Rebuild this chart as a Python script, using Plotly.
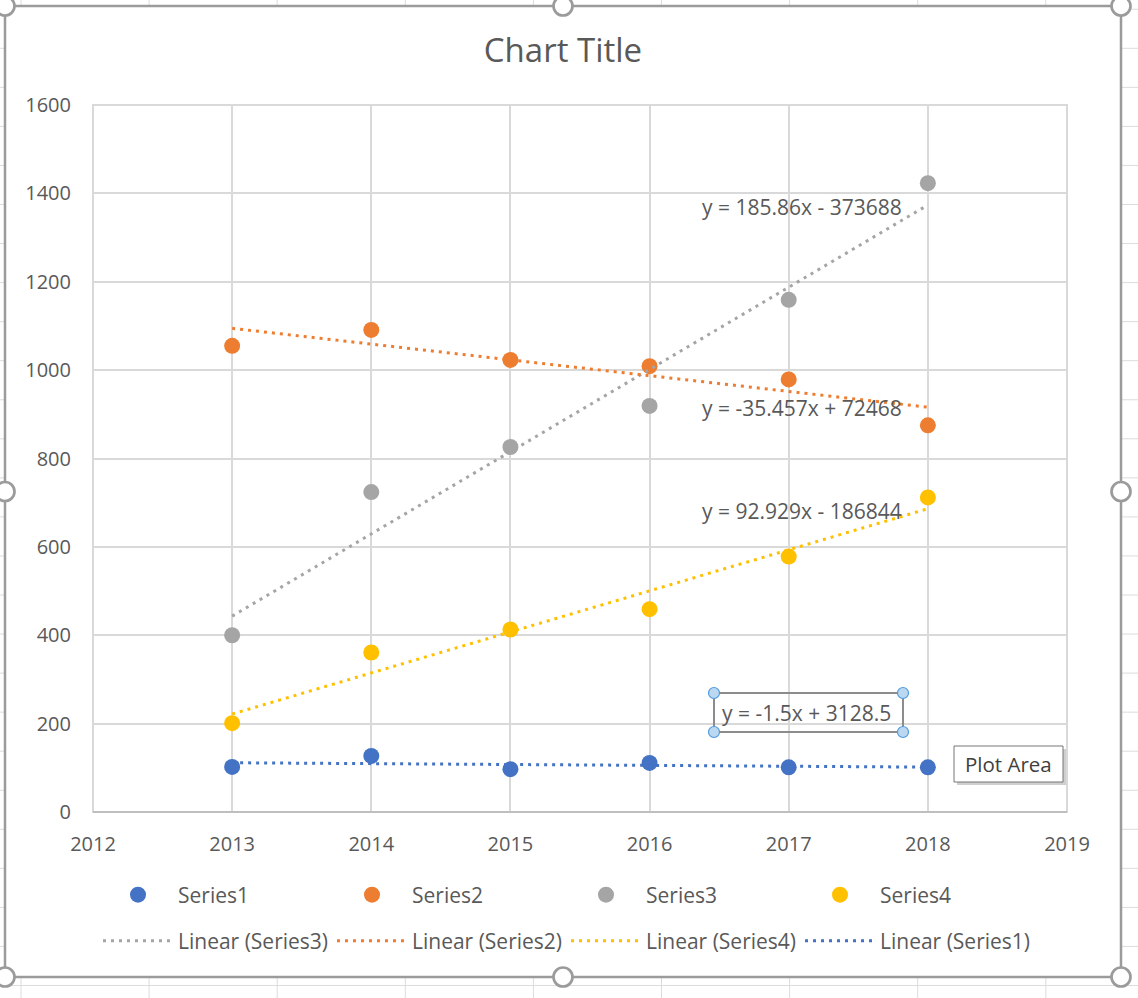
import numpy as np
import plotly.graph_objects as go

# ---------------- data ----------------
years = [2013, 2014, 2015, 2016, 2017, 2018]
series1 = [102, 127, 97, 111, 101, 101]
series2 = [1055, 1091, 1023, 1009, 979, 875]
series3 = [400, 724, 826, 919, 1159, 1423]
series4 = [201, 361, 413, 459, 578, 712]
series_names = ["Series1", "Series2", "Series3", "Series4"]
colors = ["#4472C4", "#ED7D31", "#A5A5A5", "#FFC000"]
trend_order = [2, 1, 3, 0]  # legend order of the linear trendlines
equations = ["y = -1.5x + 3128.5", "y = -35.457x + 72468",
             "y = 185.86x - 373688", "y = 92.929x - 186844"]
x_ticks = [2012, 2013, 2014, 2015, 2016, 2017, 2018, 2019]
y_ticks = [0, 200, 400, 600, 800, 1000, 1200, 1400, 1600]

all_series = [series1, series2, series3, series4]

# ---------------- geometry helpers ----------------
FW, FH = 1138, 998
L, R, T, B = 93, 1067, 105, 812
W, H = R - L, B - T


def px(x):
    return (x - L) / W


def py(y):
    return (B - y) / H


FONT = "Open Sans"
TXT = "#595959"

fig = go.Figure()

for i, (name, vals) in enumerate(zip(series_names, all_series)):
    fig.add_trace(go.Scatter(
        x=years, y=vals, mode="markers", name=name,
        marker=dict(color=colors[i], size=16, line=dict(width=0)),
        legend="legend", showlegend=True,
    ))

for i in trend_order:
    vals = all_series[i]
    coef = np.polyfit(years, vals, 1)
    fit = np.polyval(coef, years)
    fig.add_trace(go.Scatter(
        x=years, y=fit, mode="lines", name=f"Linear ({series_names[i]})",
        line=dict(color=colors[i], width=3, dash="3px,5px"),
        legend="legend2", showlegend=True,
    ))

shapes = []
# spreadsheet grid behind the chart
col_x = [21 + 128.1 * k for k in range(9)]
row_y = [48.3 + 39.05 * k for k in range(-1, 25)]
for cx in col_x:
    shapes.append(dict(type="line", xref="paper", yref="paper",
                       x0=px(cx), x1=px(cx), y0=py(0), y1=py(FH),
                       line=dict(color="#dcdcdc", width=1), layer="below"))
for ry in row_y:
    shapes.append(dict(type="line", xref="paper", yref="paper",
                       x0=px(0), x1=px(FW), y0=py(ry), y1=py(ry),
                       line=dict(color="#dcdcdc", width=1), layer="below"))
# chart area
CX0, CX1, CY0, CY1 = 5, 1121, 6, 977
shapes.append(dict(type="rect", xref="paper", yref="paper",
                   x0=px(CX0), x1=px(CX1), y0=py(CY0), y1=py(CY1),
                   fillcolor="white", line=dict(color="#9b9b9b", width=2.5),
                   layer="below"))
# plot-area outline (edge gridlines at 2012, 2019 and 1600)
shapes.append(dict(type="rect", xref="paper", yref="paper",
                   x0=0, x1=1, y0=0, y1=1,
                   line=dict(color="#d9d9d9", width=2), layer="below"))
cmx, cmy = (CX0 + CX1) / 2, (CY0 + CY1) / 2
for hx, hy in [(CX0, CY0), (cmx, CY0), (CX1, CY0), (CX0, cmy), (CX1, cmy),
               (CX0, CY1), (cmx, CY1), (CX1, CY1)]:
    r = 9.5
    shapes.append(dict(type="circle", xref="paper", yref="paper",
                       x0=px(hx - r), x1=px(hx + r), y0=py(hy - r), y1=py(hy + r),
                       fillcolor="white", line=dict(color="#9b9b9b", width=2.7),
                       layer="above"))

# selected equation label box
BX0, BX1, BY0, BY1 = 714, 903, 693, 732
shapes.append(dict(type="rect", xref="paper", yref="paper",
                   x0=px(BX0), x1=px(BX1), y0=py(BY0), y1=py(BY1),
                   line=dict(color="#8c8c8c", width=2), layer="above"))
for hx, hy in [(BX0, BY0), (BX1, BY0), (BX0, BY1), (BX1, BY1)]:
    r = 5.5
    shapes.append(dict(type="circle", xref="paper", yref="paper",
                       x0=px(hx - r), x1=px(hx + r), y0=py(hy - r), y1=py(hy + r),
                       fillcolor="#bcd8f1", line=dict(color="#4f9be0", width=1.2),
                       layer="above"))

# "Plot Area" tooltip
TX0, TX1, TY0, TY1 = 954, 1063, 746, 782
shapes.append(dict(type="rect", xref="paper", yref="paper",
                   x0=px(TX0 + 3), x1=px(TX1 + 3), y0=py(TY0 + 3), y1=py(TY1 + 3),
                   fillcolor="#cfcfcf", line=dict(width=0), layer="above"))
shapes.append(dict(type="rect", xref="paper", yref="paper",
                   x0=px(TX0), x1=px(TX1), y0=py(TY0), y1=py(TY1),
                   fillcolor="white", line=dict(color="#767676", width=1),
                   layer="above"))

annotations = []
eq_pos = [(720, 713), (700, 408), (700, 207), (700, 511)]
for text, (ex, ey) in zip(equations, eq_pos):
    annotations.append(dict(text=text, xref="paper", yref="paper",
                            x=px(ex), y=py(ey), xanchor="left", yanchor="middle",
                            showarrow=False, font=dict(family=FONT, size=21, color=TXT)))
annotations.append(dict(text="Plot Area", xref="paper", yref="paper",
                        x=px((TX0 + TX1) / 2), y=py((TY0 + TY1) / 2),
                        xanchor="center", yanchor="middle", showarrow=False,
                        font=dict(family=FONT, size=20.5, color="#404040")))

axis_common = dict(showgrid=True, gridcolor="#d9d9d9", gridwidth=2,
                   showline=False, ticks="", tickfont=dict(family=FONT, size=20, color=TXT),
                   fixedrange=True)

fig.update_layout(
    width=FW, height=FH,
    margin=dict(l=L, r=FW - R, t=T, b=FH - B, autoexpand=False),
    paper_bgcolor="white", plot_bgcolor="rgba(0,0,0,0)",
    font=dict(family=FONT, color=TXT),
    title=dict(text="Chart Title", x=563 / FW, xanchor="center", xref="container",
               y=1 - 50 / FH, yanchor="middle", yref="container",
               font=dict(family=FONT, size=33, color=TXT)),
    xaxis=dict(range=[2012, 2019], tickvals=x_ticks, ticktext=[str(v) for v in x_ticks],
               zeroline=False, ticklabelstandoff=18, **axis_common),
    yaxis=dict(range=[0, 1600], tickvals=y_ticks, zeroline=True, zerolinecolor="#bfbfbf",
               zerolinewidth=2, ticklabelstandoff=21, **axis_common),
    legend=dict(orientation="h", x=px(98), xanchor="left", y=py(895), yanchor="middle",
                entrywidth=149, entrywidthmode="pixels", itemwidth=70,
                font=dict(family=FONT, size=21, color=TXT), bgcolor="rgba(0,0,0,0)"),
    legend2=dict(orientation="h", x=px(98), xanchor="left", y=py(941), yanchor="middle",
                 entrywidth=149, entrywidthmode="pixels", itemwidth=70,
                 font=dict(family=FONT, size=21, color=TXT), bgcolor="rgba(0,0,0,0)"),
    shapes=shapes, annotations=annotations, showlegend=True,
)

fig.write_html("out.html")
